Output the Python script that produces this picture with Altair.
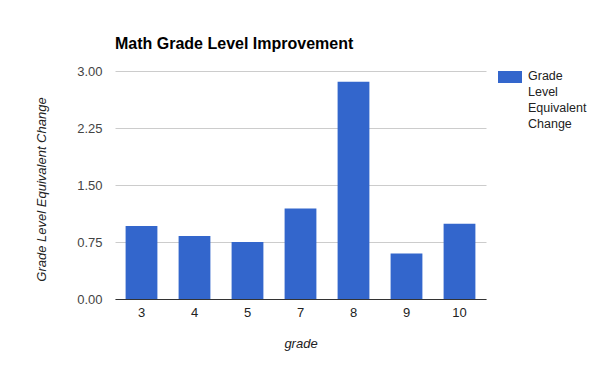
import altair as alt
import pandas as pd

grades = ["3", "4", "5", "7", "8", "9", "10"]
values = [0.96, 0.83, 0.75, 1.19, 2.86, 0.60, 0.99]
series_name = "Grade Level Equivalent Change"
y_ticks = [0, 0.75, 1.5, 2.25, 3.0]

df = pd.DataFrame({"grade": grades, "value": values, "series": [series_name] * len(grades)})

FONT = "Arial, Liberation Sans, sans-serif"

chart = alt.Chart(df).mark_bar(color="#3366cc").encode(
    x=alt.X("grade:N", sort=grades,
            scale=alt.Scale(paddingInner=0.4, paddingOuter=0.2),
            axis=alt.Axis(title="grade", labelAngle=0, ticks=False, domainColor="#333333",
                          domainWidth=1, labelPadding=7, labelFontSize=13, labelColor="#222222",
                          titleFontStyle="italic", titleFontWeight="normal", titleFontSize=13,
                          titleColor="#222222", titleY=48, titleBaseline="alphabetic")),
    y=alt.Y("value:Q", scale=alt.Scale(domain=[0, 3], nice=False),
            axis=alt.Axis(title="Grade Level Equivalent Change", values=y_ticks, format=".2f",
                          ticks=False, domain=False, gridColor="#cccccc", labelPadding=13,
                          labelFontSize=13, labelColor="#444444",
                          titleFontStyle="italic", titleFontWeight="normal", titleFontSize=13,
                          titleColor="#222222", titleX=-74, titleY=118, titleAngle=270,
                          titleAlign="center", titleBaseline="middle")),
    color=alt.Color("series:N", scale=alt.Scale(range=["#3366cc"]),
                    legend=alt.Legend(title=None, orient="none", legendX=383, legendY=-3,
                                      padding=0,
                                      symbolType="M-1,-0.75H1V0.25H-1Z", symbolSize=576,
                                      symbolStrokeWidth=0, symbolOpacity=1,
                                      labelExpr="['Grade','Level','Equivalent','Change']",
                                      labelBaseline="alphabetic", labelFontSize=12.5,
                                      labelColor="#222222", labelOffset=6, labelLimit=200)),
).properties(
    width=371,
    height=228,
    title=alt.TitleParams("Math Grade Level Improvement", anchor="start", frame="group",
                          fontSize=16, fontWeight="bold", color="#000000",
                          baseline="alphabetic", offset=0, font=FONT),
    autosize=alt.AutoSizeParams(type="none"),
    padding={"left": 107, "top": 63, "right": 106, "bottom": 64},
).configure(
    font=FONT,
    style={"guide-label": {"lineHeight": 16}},
).configure_view(stroke=None)

chart.save("out.html", embed_options={"renderer": "svg", "actions": False})
